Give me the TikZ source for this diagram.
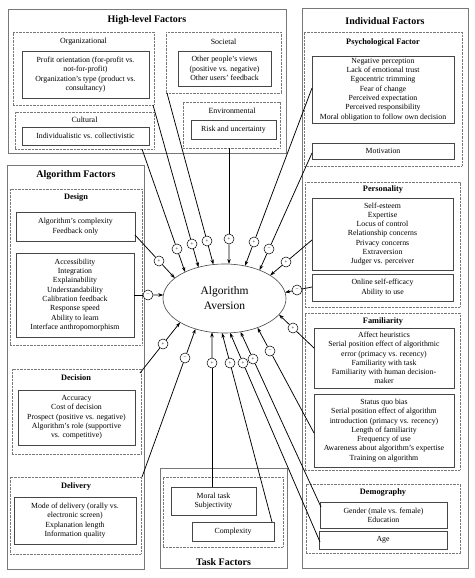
\documentclass[tikz,border=0pt]{standalone}
\usepackage{fontspec}
\setmainfont{Liberation Serif}
\usetikzlibrary{shapes.geometric,calc,intersections,arrows.meta}
\definecolor{boxgray}{RGB}{120,120,120}
\definecolor{inkgray}{RGB}{70,70,70}
\newcommand\itmfont{\fontsize{7.8}{9.3}\selectfont}
\newcommand\ttlfont{\fontsize{10}{12}\selectfont\bfseries}
\newcommand\catbfont{\fontsize{8.3}{10}\selectfont\bfseries}
\newcommand\catrfont{\fontsize{7.9}{10}\selectfont}
\begin{document}
\begin{tikzpicture}[x=1pt,y=-1pt,
  outerbox/.style={draw=boxgray, line width=0.7pt, inner sep=0pt},
  catbox/.style={draw=boxgray, line width=0.6pt, dash pattern=on 0.8pt off 0.6pt, inner sep=0pt},
  itembox/.style={draw=inkgray, line width=0.5pt, inner sep=0pt, align=center, font=\itmfont},
  ttl/.style={font=\ttlfont, inner sep=0pt},
  catb/.style={font=\catbfont, inner sep=0pt},
  catr/.style={font=\catrfont, inner sep=0pt},
  sign/.style={circle, draw=black, line width=0.5pt, fill=white, minimum size=10pt, inner sep=0pt, font=\fontsize{5}{5}\selectfont},
  conn/.style={draw=black, line width=0.75pt},
]
\useasboundingbox (0,0) rectangle (474,578);

% ---------- High-level factors ----------
\node[outerbox, minimum width=278pt, minimum height=144pt] (hl) at (147,81) {};
\node[ttl] (hlt) at (147,20) {High-level Factors};
\node[catbox, minimum width=141pt, minimum height=73pt] (org) at (83.5,68.5) {};
\node[catr] (orgt) at (83.5,42) {Organizational};
\node[itembox, minimum width=127pt, minimum height=47pt] (orgi) at (85.5,74.5)
  {Profit orientation (for-profit vs.\\not-for-profit)\\Organization's type (product vs.\\consultancy)};
\node[catbox, minimum width=115pt, minimum height=61pt] (soc) at (223.5,62.5) {};
\node[catr] (soct) at (223.5,42) {Societal};
\node[itembox, minimum width=93pt, minimum height=35pt] (soci) at (224.5,68.5)
  {Other people's views\\(positive vs. negative)\\Other users' feedback};
\node[catbox, minimum width=139pt, minimum height=37pt] (cul) at (84.5,130.5) {};
\node[catr] (cult) at (84.5,120) {Cultural};
\node[itembox, minimum width=127pt, minimum height=18pt] (culi) at (85.5,136) {Individualistic vs. collectivistic};
\node[catbox, minimum width=97pt, minimum height=46pt] (env) at (231.5,125) {};
\node[catr] (envt) at (232,111) {Environmental};
\node[itembox, minimum width=85pt, minimum height=19pt] (envi) at (233.5,129.5) {Risk and uncertainty};

% ---------- Individual factors ----------
\node[outerbox, minimum width=166pt, minimum height=560pt] (ind) at (385,288) {};
\node[ttl] (indt) at (385,21) {Individual Factors};
\node[catbox, minimum width=158pt, minimum height=134pt] (psy) at (383,99) {};
\node[catb] (psyt) at (383,43) {Psychological Factor};
\node[itembox, minimum width=142pt, minimum height=67pt] (psyi) at (383,89.5)
  {Negative perception\\Lack of emotional trust\\Egocentric trimming\\Fear of change\\Perceived expectation\\Perceived responsibility\\Moral obligation to follow own decision};
\node[itembox, minimum width=142pt, minimum height=16pt] (mot) at (383,151) {Motivation};
\node[catbox, minimum width=155pt, minimum height=125pt] (per) at (382.5,244.5) {};
\node[catb] (pert) at (383,190) {Personality};
\node[itembox, minimum width=141pt, minimum height=72pt] (peri) at (382.5,234)
  {Self-esteem\\Expertise\\Locus of control\\Relationship concerns\\Privacy concerns\\Extraversion\\Judger vs. perceiver};
\node[itembox, minimum width=141pt, minimum height=27pt] (ose) at (382.5,287.5) {Online self-efficacy\\Ability to use};
\node[catbox, minimum width=155pt, minimum height=157pt] (fam) at (382.5,391.5) {};
\node[catb] (famt) at (383,322) {Familiarity};
\node[itembox, minimum width=140pt, minimum height=60pt] (fami) at (384,358)
  {Affect heuristics\\Serial position effect of algorithmic\\error (primacy vs. recency)\\Familiarity with task\\Familiarity with human decision-\\maker};
\node[itembox, minimum width=140pt, minimum height=73pt] (famii) at (384,430.5)
  {Status quo bias\\Serial position effect of algorithm\\introduction (primacy vs. recency)\\Length of familiarity\\Frequency of use\\Awareness about algorithm's expertise\\Training on algorithm};
\node[catbox, minimum width=154pt, minimum height=69pt] (dem) at (383,518.5) {};
\node[catb] (demt) at (383,493) {Demography};
\node[itembox, minimum width=127pt, minimum height=26pt] (gen) at (383.5,515) {Gender (male vs. female)\\Education};
\node[itembox, minimum width=128pt, minimum height=18pt] (age) at (383,540) {Age};

% ---------- Algorithm factors ----------
\node[outerbox, minimum width=137pt, minimum height=404pt] (alg) at (75.5,367) {};
\node[ttl] (algt) at (76,175) {Algorithm Factors};
\node[catbox, minimum width=132pt, minimum height=156pt] (des) at (76,267) {};
\node[catb] (dest) at (76,198) {Design};
\node[itembox, minimum width=119pt, minimum height=29pt] (desi) at (75.5,226.5) {Algorithm's complexity\\Feedback only};
\node[itembox, minimum width=118pt, minimum height=84pt] (desii) at (75,295)
  {Accessibility\\Integration\\Explainability\\Understandability\\Calibration feedback\\Response speed\\Ability to learn\\Interface anthropomorphism};
\node[catbox, minimum width=129pt, minimum height=85pt] (dec) at (76.5,411.5) {};
\node[catb] (dect) at (76,378) {Decision};
\node[itembox, minimum width=117pt, minimum height=55pt] (deci) at (76.5,417.5)
  {Accuracy\\Cost of decision\\Prospect (positive vs. negative)\\Algorithm's role (supportive\\vs. competitive)};
\node[catbox, minimum width=131pt, minimum height=77pt] (del) at (75.5,515.5) {};
\node[catb] (delt) at (76,487) {Delivery};
\node[itembox, minimum width=122pt, minimum height=47pt] (deli) at (75,520.5)
  {Mode of delivery (orally vs.\\electronic screen)\\Explanation length\\Information quality};

% ---------- Task factors ----------
\node[outerbox, minimum width=127pt, minimum height=100pt] (task) at (223.5,518) {};
\node[ttl] (taskt) at (223.5,562) {Task Factors};
\node[catbox, minimum width=120pt, minimum height=70pt] (taski) at (223,512) {};
\node[itembox, minimum width=85pt, minimum height=28pt] (mor) at (213.5,501) {Moral task\\Subjectivity};
\node[itembox, minimum width=82pt, minimum height=19pt] (cpx) at (233,531.5) {Complexity};

% ---------- Central construct ----------
\node[draw=inkgray, line width=0.6pt, ellipse, minimum width=123pt, minimum height=69pt, inner sep=0pt,
  align=center, font=\fontsize{11.5}{15}\selectfont] (ell) at (224.5,298.5) {Algorithm\\Aversion};
\path[name path global=ellp] (224.5,298.5) ellipse [x radius=61.5pt, y radius=34.5pt];

% ---------- Connectors ----------
\foreach \id/\sx/\sy/\cx/\cy/\sg in {
  a/135/235/159/261/+,
  b/134/295/148/295/\textendash,
  c/140/373/163/344/+,
  d/142/477/185/358/\textendash,
  e/212/487/212/363/+,
  f/272/522/230/363/+,
  g/320/542/243/363/+,
  h/321/507/253/359/+,
  i/314/433/270/351/\textendash,
  j/314/348/293/328/+,
  k/312/287/297/290/\textendash,
  l/312/240/286/262/+,
  m/312/153/269/249/\textendash,
  n/312/88/254/242/+,
  o/229/148/229/239/+,
  p/167/93/207/241/+,
  q/153/105/192/244/+,
  r/142/149/177/249/+}{
  \coordinate (s\id) at (\sx,\sy);
  \node[sign] (c\id) at (\cx,\cy) {\sg};
  \path[name path=ray] (c\id.center) -- ($(s\id)!5!(c\id)$);
  \path[name intersections={of=ray and ellp, sort by=ray, by={tmpe}}];
  \coordinate (e\id) at (tmpe);
  \draw[conn] (s\id) -- (c\id);
  \draw[conn, -{Stealth[length=5pt,width=3.5pt]}] (c\id) -- (e\id);
}
\end{tikzpicture}
\end{document}
